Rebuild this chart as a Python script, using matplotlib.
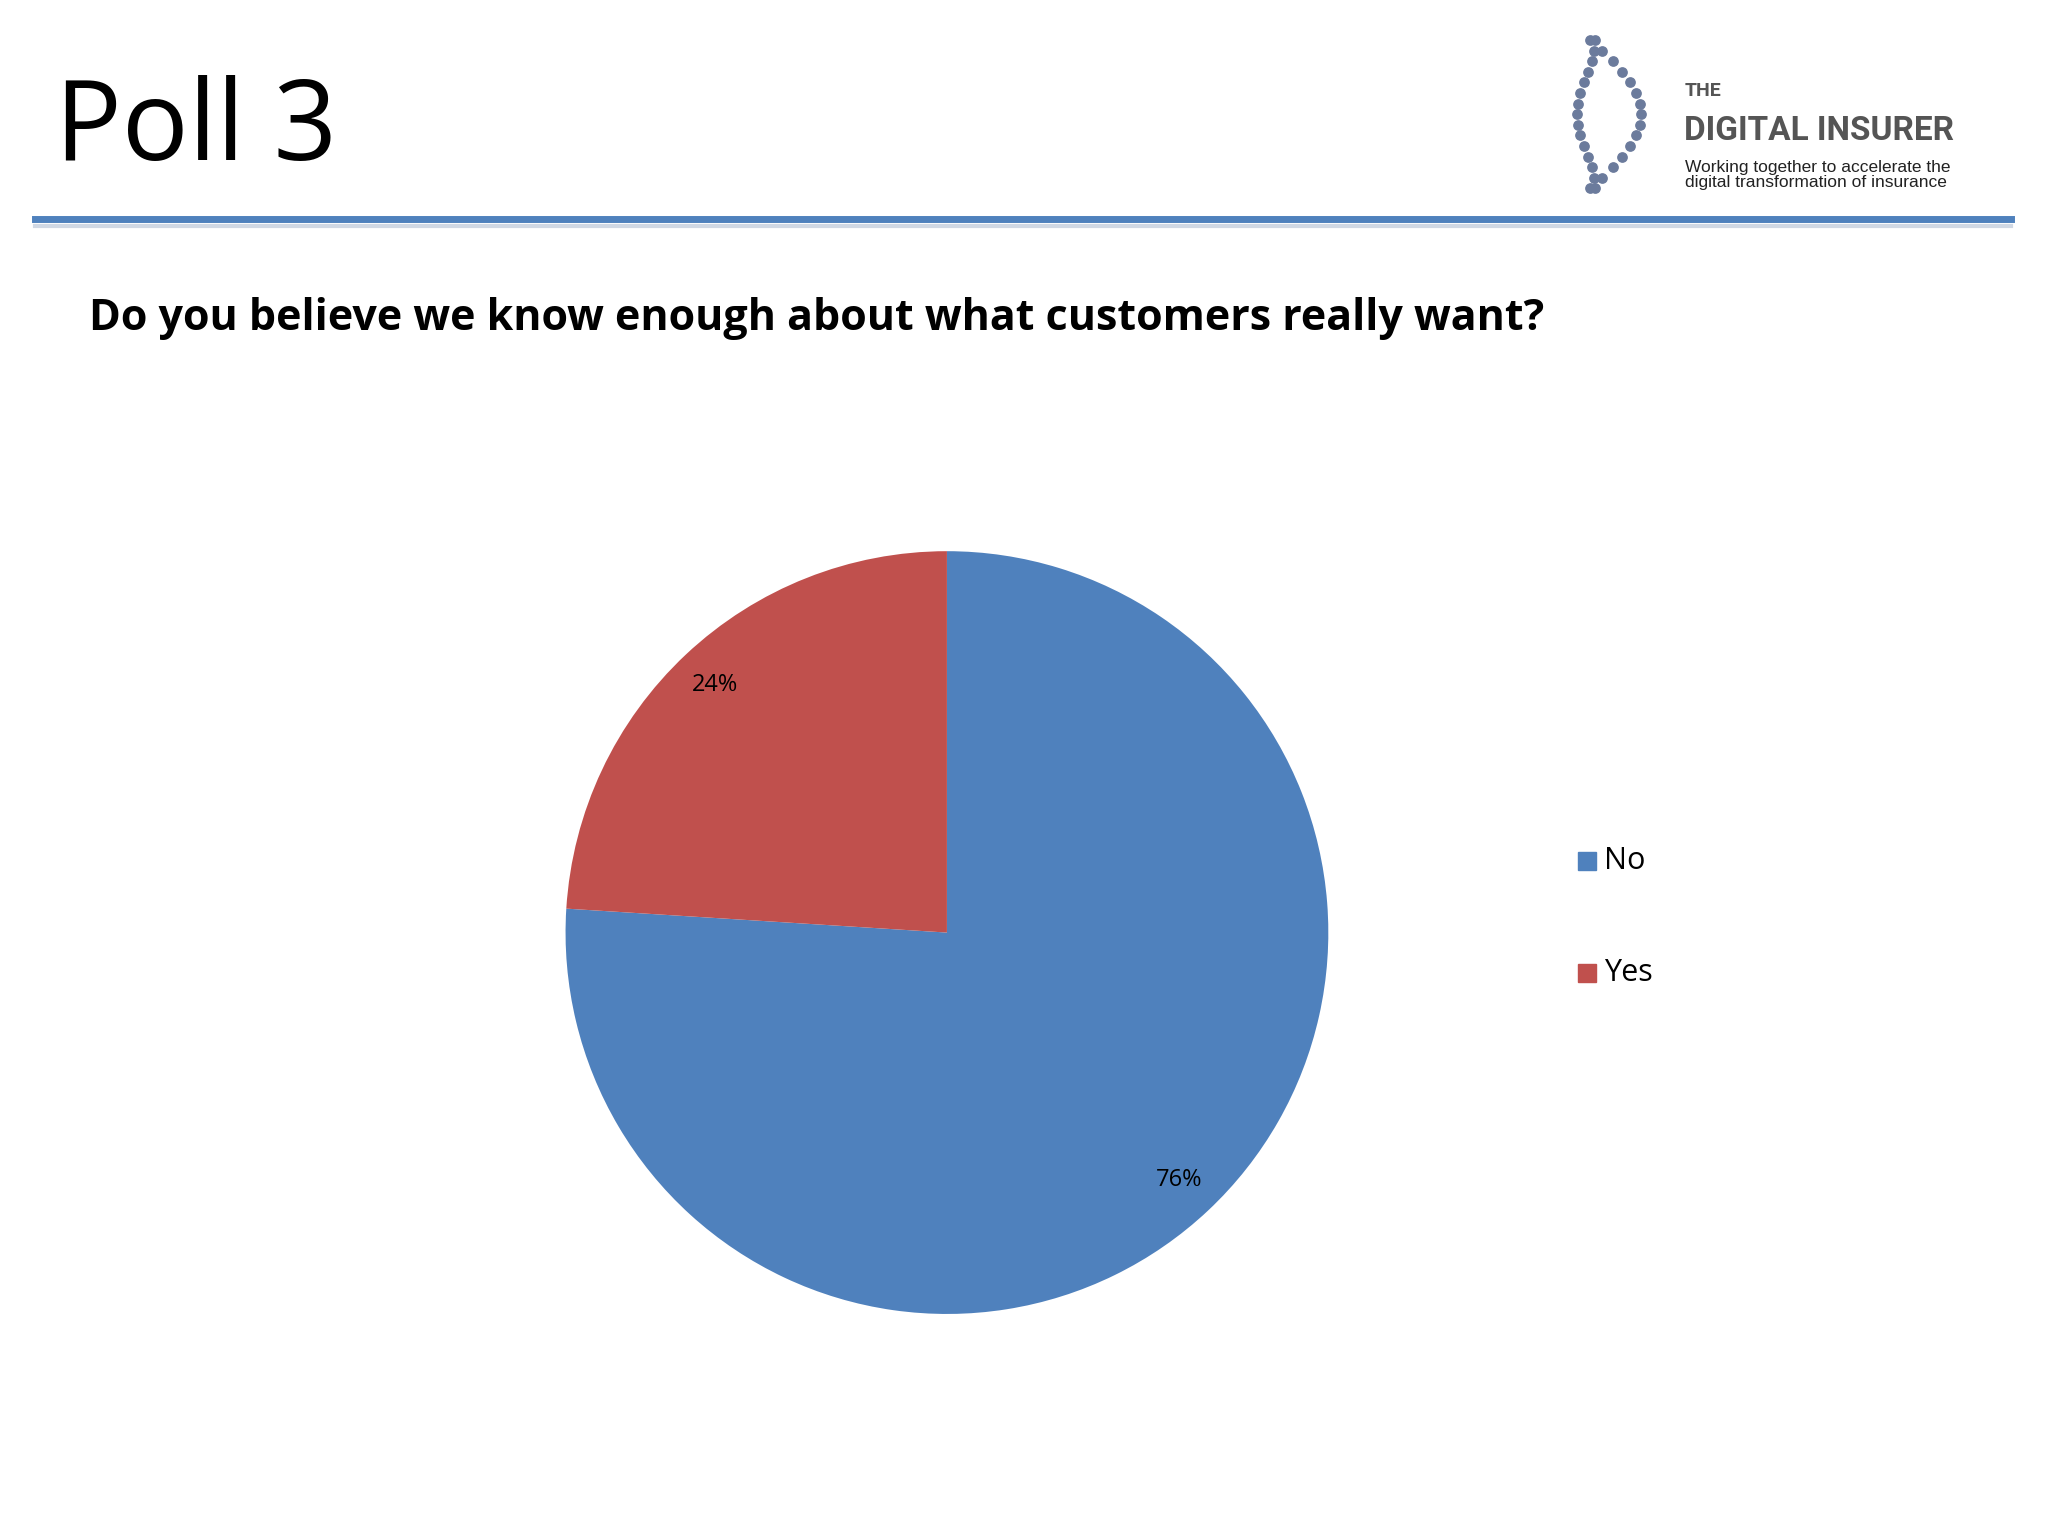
import matplotlib
matplotlib.use("Agg")
import matplotlib.pyplot as plt
import numpy as np

labels = ["No", "Yes"]
values = [76, 24]
colors = ["#4F81BD", "#C0504D"]

W, H = 1568, 1176
fig = plt.figure(figsize=(20.48, 15.36), dpi=100)
fig.patch.set_facecolor("white")

def fx(x): return x / W
def fy(y): return 1 - y / H

fig.text(fx(42), fy(100), "Poll 3", fontsize=80, family="Open Sans", va="center", ha="left")
fig.add_artist(plt.Line2D([fx(27), fx(1540)], [fy(168), fy(168)], color="#4F81BD", lw=5))
fig.add_artist(plt.Line2D([fx(27), fx(1540)], [fy(173), fy(173)], color="#D0D8E4", lw=3))
fig.text(fx(68), fy(244), "Do you believe we know enough about what customers really want?",
         fontsize=31, fontweight="bold", family="Open Sans", va="center", ha="left")

# logo
fig.text(fx(1290), fy(70), "THE", fontsize=14, fontweight="bold", color="#555555", va="center", family="Roboto")
fig.text(fx(1289), fy(100), "DIGITAL INSURER", fontsize=24, fontweight="bold", color="#555555",
         va="center", family="Roboto")
fig.text(fx(1290), fy(128), "Working together to accelerate the", fontsize=12.5, color="#222222", va="center", family="Liberation Sans")
fig.text(fx(1290), fy(140), "digital transformation of insurance", fontsize=12.5, color="#222222", va="center", family="Liberation Sans")
lax = fig.add_axes([fx(1200), fy(150), fx(85), 125/H])
lax.axis("off")
t = np.linspace(0, 1, 15)
lax.scatter(0.25 + 0.55*np.sin(np.pi*t), t, s=45, color="#6B7B9C")
lax.scatter(0.1 + 0.2*np.cos(np.pi*t)**2, t, s=45, color="#6B7B9C")
lax.set_xlim(0, 1.2); lax.set_ylim(-0.05, 1.05)

ax = fig.add_axes([fx(725-292), fy(714+292), fx(584), 584/H])
ax.pie(values, colors=colors, startangle=90, counterclock=False, radius=1,
       autopct="%d%%", pctdistance=0.89, textprops={"fontsize": 17, "family": "Open Sans"})
ax.set_xlim(-1, 1); ax.set_ylim(-1, 1)
ax.set_aspect("equal")

for i, (lab, c) in enumerate(zip(labels, colors)):
    y = 659 + i*86
    fig.patches.append(plt.Rectangle((fx(1208), fy(y+7)), fx(14), 14/H, color=c, transform=fig.transFigure))
    fig.text(fx(1228), fy(y), lab, fontsize=22, family="Open Sans", va="center")

fig.savefig("out.png", dpi=100)
